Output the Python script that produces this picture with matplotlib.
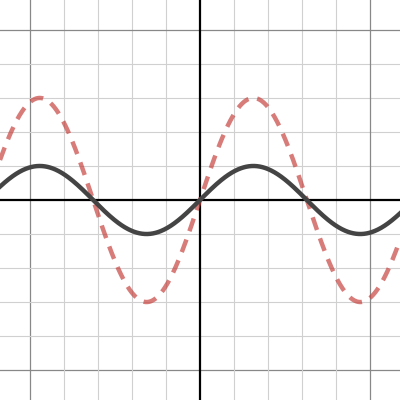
import numpy as np
import matplotlib
matplotlib.use("Agg")
import matplotlib.pyplot as plt

x_range = (-5.88, 5.88)
y_range = (-5.88, 5.88)
amp_solid = 1.0
amp_dashed = 3.0

fig = plt.figure(figsize=(4, 4), dpi=100)
ax = fig.add_axes([0, 0, 1, 1])
ax.set_xlim(*x_range)
ax.set_ylim(*y_range)
for v in range(-5, 6):
    c, lw = ("#888888", 0.9) if v % 5 == 0 else ("#d0d0d0", 0.8)
    if v != 0:
        ax.axvline(v, color=c, lw=lw, zorder=0)
        ax.axhline(v, color=c, lw=lw, zorder=0)
ax.axvline(0, color="black", lw=1.6, zorder=1)
ax.axhline(0, color="black", lw=1.6, zorder=1)

xs = np.linspace(*x_range, 600)
ax.plot(xs, amp_dashed * np.sin(xs), color="#c74440", alpha=0.7, lw=3.2,
        dashes=(3, 2), zorder=2)
ax.plot(xs, amp_solid * np.sin(xs), color="#444444", lw=3.2, zorder=3)
ax.set_xticks([]); ax.set_yticks([])
for s in ax.spines.values():
    s.set_visible(False)
fig.savefig("out.png", dpi=100)
